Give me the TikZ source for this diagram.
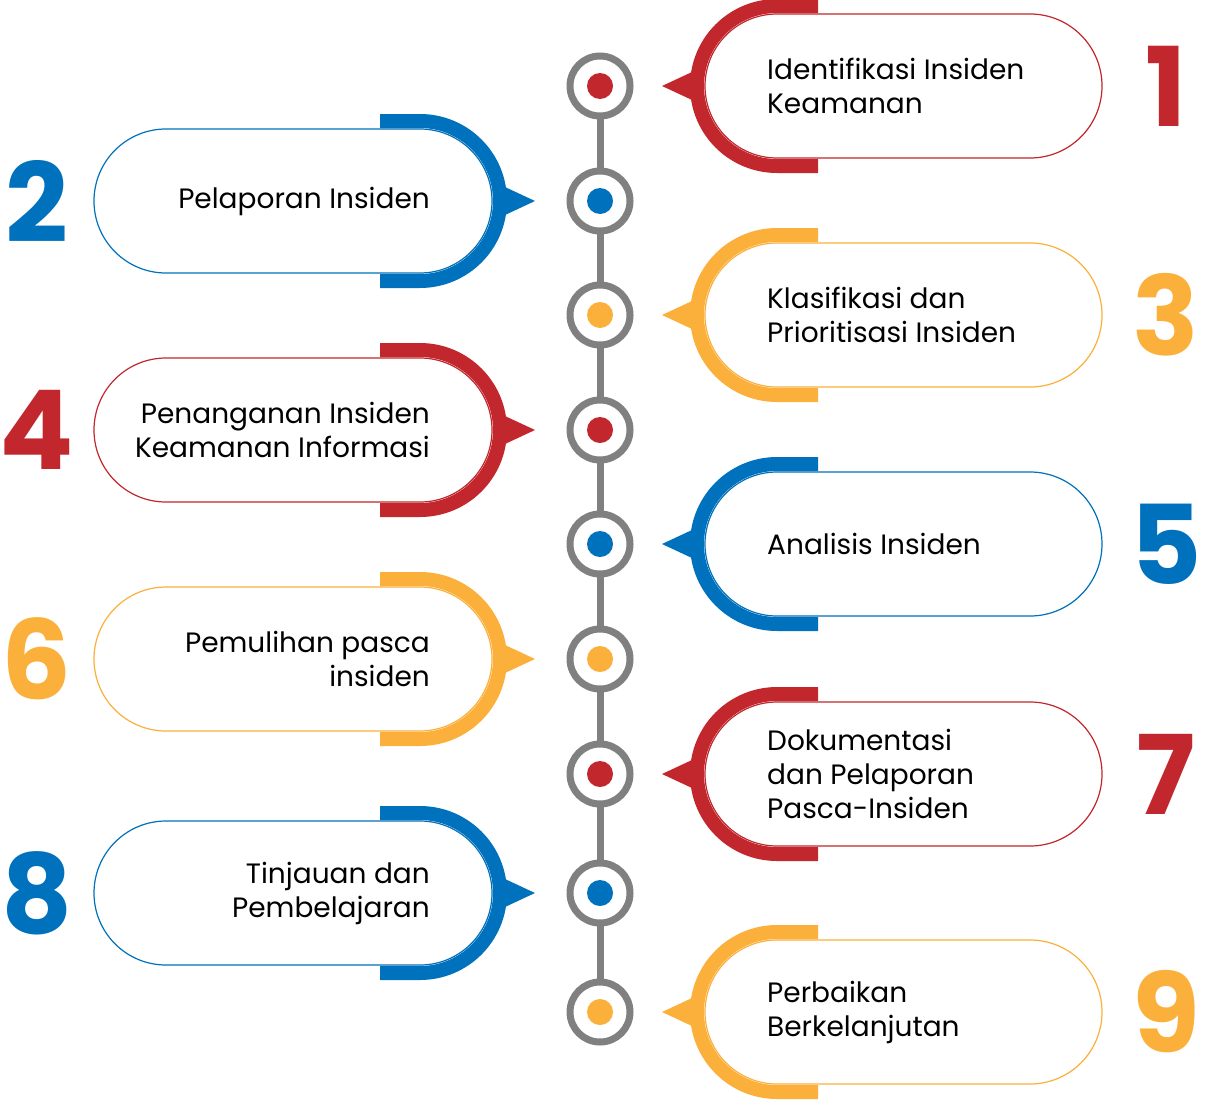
\documentclass[tikz,border=0pt]{standalone}
\usepackage{fontspec}
\setmainfont{Poppins}
\definecolor{cr}{HTML}{C1272D}
\definecolor{cb}{HTML}{0071BC}
\definecolor{cy}{HTML}{FBB03B}
\definecolor{cg}{HTML}{808080}
\begin{document}
\begin{tikzpicture}[x=1pt,y=-1pt,
  txt/.style={font=\fontsize{28}{34}\selectfont,align=left,inner sep=0},
  num/.style={font=\fontsize{110}{110}\selectfont\bfseries,inner sep=0}]
\useasboundingbox (0,0) rectangle (1207,1111);
\draw[cg,line width=7] (600,86) -- (600,1012);
% right items
\foreach \y/\c/\n/\t in {86/cr/1/{Identifikasi Insiden\\Keamanan},315/cy/3/{Klasifikasi dan\\Prioritisasi Insiden},544/cb/5/{Analisis Insiden},774/cr/7/{Dokumentasi\\dan Pelaporan\\Pasca-Insiden},1012/cy/9/{Perbaikan\\Berkelanjutan}}{
  \draw[\c,line width=1.2,fill=white] (777,\y-72) -- (1030,\y-72) arc[start angle=-90,end angle=90,radius=72] -- (777,\y+72) arc[start angle=90,end angle=270,radius=72] -- cycle;
  \draw[\c,line width=14] (818,\y-80) -- (777,\y-80) arc[start angle=-90,end angle=-270,radius=80] -- (818,\y+80);
  \fill[\c] (662,\y) -- (692,\y-14) -- (692,\y+14) -- cycle;
  \node[txt,anchor=west] (r\n) at (767,\y) {\t};
  \node[num,text=\c] (n\n) at (1166,\y) {\n};
  \draw[cg,line width=7,fill=white] (600,\y) circle (30);
  \fill[\c] (600,\y) circle (13);
}
% left items
\foreach \y/\c/\n/\t in {201/cb/2/{Pelaporan Insiden},430/cr/4/{Penanganan Insiden\\Keamanan Informasi},659/cy/6/{Pemulihan pasca\\insiden},893/cb/8/{Tinjauan dan\\Pembelajaran}}{
  \draw[\c,line width=1.2,fill=white] (166,\y-72) -- (420,\y-72) arc[start angle=-90,end angle=90,radius=72] -- (166,\y+72) arc[start angle=90,end angle=270,radius=72] -- cycle;
  \draw[\c,line width=14] (380,\y-80) -- (420,\y-80) arc[start angle=-90,end angle=90,radius=80] -- (380,\y+80);
  \fill[\c] (535,\y) -- (505,\y-14) -- (505,\y+14) -- cycle;
  \node[txt,align=right,anchor=east] (l\n) at (430,\y) {\t};
  \node[num,text=\c] (n\n) at (37,\y) {\n};
  \draw[cg,line width=7,fill=white] (600,\y) circle (30);
  \fill[\c] (600,\y) circle (13);
}
\end{tikzpicture}
\end{document}
